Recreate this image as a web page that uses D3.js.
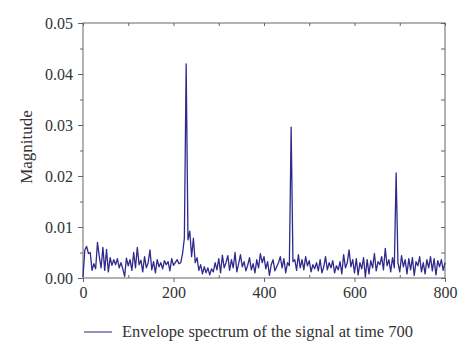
<!DOCTYPE html>
<html>
<head>
<meta charset="utf-8">
<script src="https://cdn.jsdelivr.net/npm/d3@7"></script>
<style>
  html, body { margin: 0; padding: 0; background: #fff; }
  svg { display: block; }
  text { font-family: "Liberation Serif", "DejaVu Serif", serif; fill: #333; }
</style>
</head>
<body>
<svg id="chart" width="474" height="357"></svg>
<script>
// ---- Data ----
const freqStep = 4;           // spectrum sampled every 4 units, 0..800
const magnitude = [
  0.0002, 0.0055, 0.0062, 0.0048, 0.0050, 0.0015, 0.0028, 0.0018, 0.0070, 0.0042,
  0.0020, 0.0060, 0.0015, 0.0056, 0.0012, 0.0040, 0.0025, 0.0036, 0.0026, 0.0038,
  0.0020, 0.0030, 0.0018, 0.0003, 0.0039, 0.0024, 0.0036, 0.0015, 0.0050, 0.0020,
  0.0060, 0.0026, 0.0035, 0.0012, 0.0042, 0.0020, 0.0030, 0.0055, 0.0016, 0.0032,
  0.0010, 0.0036, 0.0022, 0.0030, 0.0018, 0.0034, 0.0026, 0.0032, 0.0014, 0.0038,
  0.0025, 0.0030, 0.0036, 0.0028, 0.0030, 0.0048, 0.0078, 0.0420, 0.0075, 0.0092,
  0.0042, 0.0078, 0.0030, 0.0040, 0.0015, 0.0026, 0.0008, 0.0022, 0.0010, 0.0020,
  0.0006, 0.0018, 0.0012, 0.0030, 0.0016, 0.0038, 0.0010, 0.0045, 0.0020, 0.0030,
  0.0044, 0.0015, 0.0036, 0.0020, 0.0050, 0.0012, 0.0028, 0.0046, 0.0022, 0.0032,
  0.0014, 0.0025, 0.0040, 0.0016, 0.0028, 0.0010, 0.0036, 0.0020, 0.0048, 0.0030,
  0.0042, 0.0018, 0.0032, 0.0005, 0.0026, 0.0036, 0.0014, 0.0022, 0.0030, 0.0042,
  0.0020, 0.0038, 0.0010, 0.0030, 0.0024, 0.0296, 0.0032, 0.0036, 0.0015, 0.0046,
  0.0020, 0.0036, 0.0016, 0.0042, 0.0024, 0.0034, 0.0012, 0.0026, 0.0018, 0.0030,
  0.0014, 0.0036, 0.0010, 0.0022, 0.0042, 0.0016, 0.0030, 0.0020, 0.0034, 0.0010,
  0.0024, 0.0016, 0.0032, 0.0008, 0.0046, 0.0020, 0.0030, 0.0055, 0.0022, 0.0036,
  0.0010, 0.0038, 0.0006, 0.0030, 0.0018, 0.0040, 0.0002, 0.0036, 0.0008, 0.0034,
  0.0020, 0.0048, 0.0014, 0.0032, 0.0026, 0.0042, 0.0016, 0.0058, 0.0024, 0.0036,
  0.0012, 0.0040, 0.0020, 0.0206, 0.0030, 0.0012, 0.0044, 0.0022, 0.0036, 0.0008,
  0.0038, 0.0016, 0.0040, 0.0005, 0.0032, 0.0024, 0.0042, 0.0012, 0.0030, 0.0008,
  0.0036, 0.0020, 0.0042, 0.0014, 0.0038, 0.0006, 0.0034, 0.0022, 0.0036, 0.0015,
  0.0030
];
const xTicks = [0, 200, 400, 600, 800];
const xMinorTicks = [100, 300, 500, 700];
const yTicks = [0, 0.01, 0.02, 0.03, 0.04, 0.05];
const yMinorTicks = [0.005, 0.015, 0.025, 0.035, 0.045];
const yLabel = "Magnitude";
const legendLabel = "Envelope spectrum of the signal at time 700";

const points = magnitude.map((v, i) => ({ f: i * freqStep, v }));

// ---- Layout ----
const svg = d3.select("#chart");
const mLeft = 83, mRight = 445, mTop = 23, mBottom = 278;
const x = d3.scaleLinear().domain([0, 800]).range([mLeft, mRight]);
const y = d3.scaleLinear().domain([0, 0.05]).range([mBottom, mTop]);
const axisColor = "#666";
const lineColor = "#2f2a8c";

// frame
svg.append("rect")
  .attr("x", mLeft).attr("y", mTop)
  .attr("width", mRight - mLeft).attr("height", mBottom - mTop)
  .attr("fill", "none").attr("stroke", axisColor).attr("stroke-width", 1);

function styleAxis(g) {
  g.select(".domain").remove();
  g.selectAll(".tick line").attr("stroke", axisColor);
  g.selectAll(".tick text")
    .style("font-family", '"Liberation Serif", "DejaVu Serif", serif')
    .style("font-size", "16px").attr("fill", "#333");
}

// bottom axis: major outward, minor inward
svg.append("g").attr("transform", `translate(0,${mBottom})`)
  .call(d3.axisBottom(x).tickValues(xTicks).tickFormat(d3.format("d")).tickSize(4).tickPadding(5))
  .call(styleAxis);
svg.append("g").attr("transform", `translate(0,${mBottom})`)
  .call(d3.axisTop(x).tickValues(xMinorTicks).tickFormat("").tickSize(3))
  .call(styleAxis);
// top axis ticks inward
svg.append("g").attr("transform", `translate(0,${mTop})`)
  .call(d3.axisBottom(x).tickValues(xTicks.concat(xMinorTicks)).tickFormat("").tickSize(3))
  .call(styleAxis);

// left axis: major outward, minor outward short
svg.append("g").attr("transform", `translate(${mLeft},0)`)
  .call(d3.axisLeft(y).tickValues(yTicks).tickFormat(d3.format(".2f")).tickSize(5).tickPadding(5))
  .call(styleAxis);
svg.append("g").attr("transform", `translate(${mLeft},0)`)
  .call(d3.axisLeft(y).tickValues(yMinorTicks).tickFormat("").tickSize(3))
  .call(styleAxis);
// right axis ticks inward
svg.append("g").attr("transform", `translate(${mRight},0)`)
  .call(d3.axisLeft(y).tickValues(yTicks.concat(yMinorTicks)).tickFormat("").tickSize(4))
  .call(styleAxis);

// data line
svg.append("path")
  .datum(points)
  .attr("fill", "none")
  .attr("stroke", lineColor)
  .attr("stroke-width", 1.3)
  .attr("stroke-linejoin", "round")
  .attr("d", d3.line().x(d => x(d.f)).y(d => y(d.v)));

// y label
svg.append("text")
  .attr("transform", `translate(32,147) rotate(-90)`)
  .attr("text-anchor", "middle")
  .style("font-size", "17px")
  .text(yLabel);

// legend
svg.append("line")
  .attr("x1", 84).attr("x2", 112).attr("y1", 332).attr("y2", 332)
  .attr("stroke", "#5a57a0").attr("stroke-width", 1.3);
svg.append("text")
  .attr("x", 122).attr("y", 337)
  .style("font-size", "16.5px")
  .attr("textLength", 291)
  .text(legendLabel);
</script>
</body>
</html>
